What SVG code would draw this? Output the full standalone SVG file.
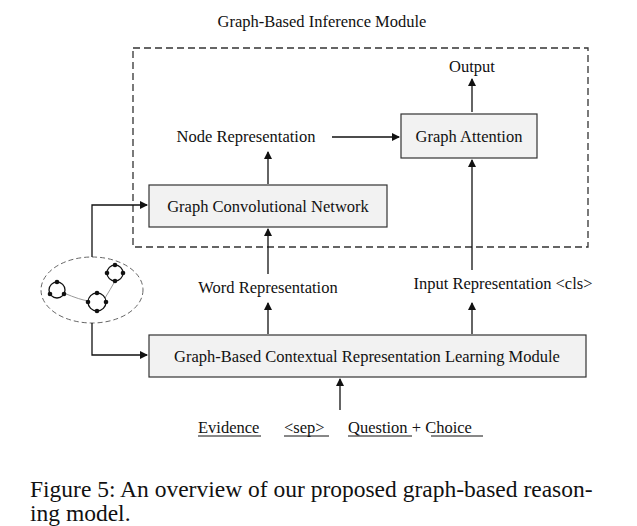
<svg xmlns="http://www.w3.org/2000/svg" width="637" height="526" viewBox="0 0 637 526">
<style>
text{font-family:"Liberation Serif","Times New Roman",serif;fill:#111}
.l{font-size:16.5px}
.c{font-size:23.5px}
.box{fill:#f2f2f2;stroke:#333;stroke-width:1.2}
.e{stroke:#111;stroke-width:1.3;fill:none}
.u{stroke:#111;stroke-width:1}
</style>
<defs>
<marker id="a" markerWidth="8" markerHeight="8" refX="7" refY="4" orient="auto" markerUnits="userSpaceOnUse">
<path d="M0,0 L8,4 L0,8 Z" fill="#111"/>
</marker>
</defs>
<rect width="637" height="526" fill="#fff"/>
<g id="module">
<rect x="133" y="48" width="455" height="199" fill="none" stroke="#333" stroke-width="1.3" stroke-dasharray="7,4"/>
<text class="l" x="322" y="27" text-anchor="middle">Graph-Based Inference Module</text>
</g>
<g id="output"><text class="l" x="472" y="72" text-anchor="middle">Output</text></g>
<g id="attention"><rect class="box" x="401" y="114" width="136" height="44"/><text class="l" x="469" y="142" text-anchor="middle">Graph Attention</text></g>
<g id="noderep"><text class="l" x="246" y="142" text-anchor="middle">Node Representation</text></g>
<g id="gcn"><rect class="box" x="149" y="185" width="238" height="42"/><text class="l" x="268" y="212" text-anchor="middle">Graph Convolutional Network</text></g>
<g id="wordrep"><text class="l" x="268" y="293" text-anchor="middle">Word Representation</text></g>
<g id="inputrep"><text class="l" x="503" y="289" text-anchor="middle">Input Representation &lt;cls&gt;</text></g>
<g id="contextual"><rect class="box" x="149" y="335" width="437" height="42"/><text class="l" x="367" y="362" text-anchor="middle">Graph-Based Contextual Representation Learning Module</text></g>
<g id="inputs">
<text class="l" x="198" y="433">Evidence</text>
<line class="u" x1="198" y1="436" x2="261" y2="436"/>
<text class="l" x="284" y="433">&lt;sep&gt;</text>
<line class="u" x1="284" y1="436" x2="329" y2="436"/>
<text class="l" x="348" y="433">Question + Choice</text>
<line class="u" x1="348" y1="436" x2="412" y2="436"/>
<line class="u" x1="431" y1="436" x2="483" y2="436"/>
</g>
<g id="graph">
<ellipse cx="92" cy="290" rx="51" ry="33" fill="none" stroke="#666" stroke-dasharray="5,3"/>
<path d="M64,293 Q80,300 89,301" fill="none" stroke="#999"/>
<path d="M105,298 Q110,290 115,281" fill="none" stroke="#999"/>
<circle class="e" cx="57" cy="290" r="8"/>
<circle class="e" cx="97" cy="302" r="9"/>
<circle class="e" cx="115" cy="273" r="8"/>
<g fill="#111">
<circle cx="57" cy="282" r="2.3"/><circle cx="50" cy="294" r="2.3"/><circle cx="64" cy="294" r="2.3"/>
<circle cx="97" cy="293" r="2.3"/><circle cx="88" cy="302" r="2.3"/><circle cx="106" cy="302" r="2.3"/><circle cx="97" cy="311" r="2.3"/>
<circle cx="115" cy="265" r="2.3"/><circle cx="107" cy="273" r="2.3"/><circle cx="123" cy="273" r="2.3"/><circle cx="115" cy="281" r="2.3"/>
</g>
</g>
<g id="connectors" stroke="#111" stroke-width="1.3" fill="none" marker-end="url(#a)">
<line x1="472" y1="112" x2="472" y2="79"/>
<line x1="332" y1="137" x2="399" y2="137"/>
<line x1="268" y1="184" x2="268" y2="152"/>
<line x1="268" y1="274" x2="268" y2="229"/>
<line x1="472" y1="270" x2="472" y2="160"/>
<line x1="268" y1="334" x2="268" y2="303"/>
<line x1="472" y1="334" x2="472" y2="303"/>
<line x1="340" y1="410" x2="340" y2="379"/>
<polyline points="92,257 92,205 147,205"/>
<polyline points="92,323 92,355 147,355"/>
</g>
<g id="caption">
<text class="c" x="30" y="497">Figure 5: An overview of our proposed graph-based reason-</text>
<text class="c" x="30" y="521">ing model.</text>
</g>
</svg>
